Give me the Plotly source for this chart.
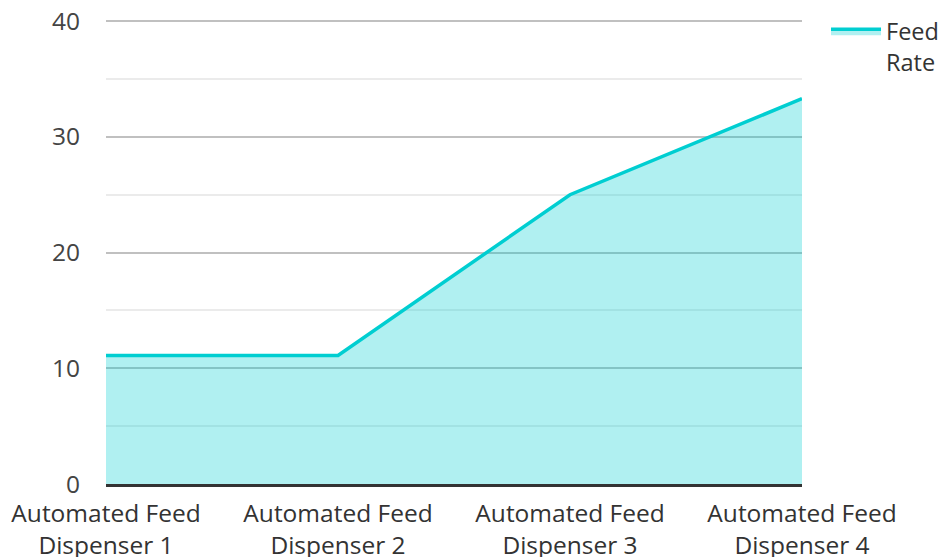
import plotly.graph_objects as go

categories = ["Automated Feed<br>Dispenser 1", "Automated Feed<br>Dispenser 2",
              "Automated Feed<br>Dispenser 3", "Automated Feed<br>Dispenser 4"]
feed_rate = [11.1, 11.1, 25.0, 33.3]
series_name = "Feed<br>Rate"
y_ticks = [0, 10, 20, 30, 40]

FONT = "Open Sans"
FS = 24.5
LINE = "#00CED1"
FILL = "rgba(0,206,209,0.31)"

fig = go.Figure()
fig.add_trace(go.Scatter(
    x=categories, y=feed_rate, name=series_name, mode="lines",
    line=dict(color=LINE, width=3.5), fill="tozeroy", fillcolor=FILL,
))

fig.update_layout(
    width=942, height=557,
    margin=dict(l=106, r=140, t=20, b=73, autoexpand=False),
    paper_bgcolor="white", plot_bgcolor="white",
    font=dict(family=FONT, size=FS, color="#444444"),
    showlegend=True,
    legend=dict(x=1.0345, y=1.0226, xanchor="left", yanchor="top", valign="top",
                font=dict(family=FONT, size=23.5, color="#333333"),
                bgcolor="rgba(0,0,0,0)", itemwidth=50, tracegroupgap=0),
    xaxis=dict(type="category", range=[0, 3], showgrid=False,
               showline=True, linecolor="#333333", linewidth=3,
               ticks="", ticklabelstandoff=6, ticklabeloverflow="allow",
               tickfont=dict(family=FONT, size=FS, color="#333333"),
               automargin=False),
    yaxis=dict(range=[0, 40.1], tickvals=y_ticks, showgrid=True,
               gridcolor="rgba(0,0,0,0.18)", gridwidth=2,
               zeroline=False, showline=False, ticks="",
               ticklabelstandoff=25, ticklabeloverflow="allow",
               minor=dict(dtick=5, showgrid=True, gridcolor="rgba(0,0,0,0.08)", gridwidth=2),
               tickfont=dict(family=FONT, size=FS, color="#444444"),
               automargin=False),
)

fig.write_html(
    "out.html",
    config={"displayModeBar": False},
    post_script="document.body.style.margin='0';document.body.style.overflow='hidden';",
)
